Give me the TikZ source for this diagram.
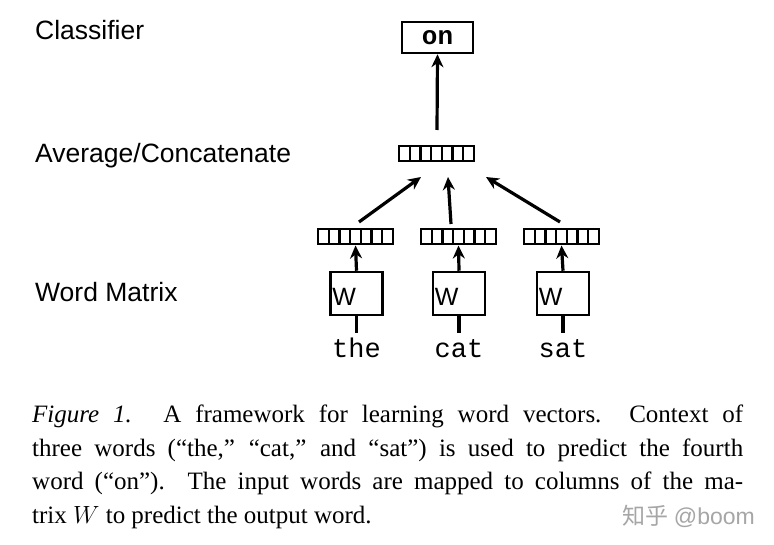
\documentclass[tikz,border=0pt]{standalone}
\usepackage{fontspec}
\setmainfont{Liberation Serif}
\setsansfont{Liberation Sans}
\setmonofont{Liberation Mono}
\newfontfamily\cjk{Noto Sans CJK SC}
\usetikzlibrary{arrows.meta}
\tikzset{
 lab/.style={anchor=west,font=\sffamily\fontsize{26.5}{28}\selectfont,inner sep=0},
 vec/.style={draw,line width=2.5pt,minimum width=75pt,minimum height=15pt,inner sep=0,outer sep=0},
 wbox/.style={draw,line width=2.5pt,minimum width=52pt,minimum height=43pt,inner sep=0},
 word/.style={font=\ttfamily\fontsize{27}{27}\selectfont,inner sep=0,anchor=base},
 arr/.style={line width=3.2pt,-{Stealth[length=13pt,width=12pt]}},
}
\newcommand{\cells}[1]{\foreach \i in {1,...,6}{\draw[line width=2.2pt] ([xshift=\i*75pt/7]#1.north west) -- ([xshift=\i*75pt/7]#1.south west);}}
\begin{document}
\begin{tikzpicture}[x=1pt,y=-1pt]
\useasboundingbox (0,0) rectangle (774,545);
\fill[white] (0,0) rectangle (774,545);
\node[lab] (l1) at (35,30) {Classifier};
\node[lab] (l2) at (35,156) {Average/Concatenate};
\node[lab] (l3) at (35,292) {Word Matrix};
\node[draw,line width=2.5pt,minimum width=71pt,minimum height=31pt,inner sep=0,font=\ttfamily\bfseries\fontsize{26}{26}\selectfont] (on) at (437.5,37.5) {on};
\node[vec] (avg) at (436.5,153.5) {}; \cells{avg}
\foreach \n/\x/\wx/\t in {a/355.5/356.5/the,b/458.5/459/cat,c/561.5/563/sat}{
  \node[vec] (v\n) at (\x,236.5) {}; \cells{v\n}
  \node[wbox] (w\n) at (\wx,293.5) {};
  \node[font=\sffamily\fontsize{25}{25}\selectfont,anchor=west,inner sep=0] (wl\n) at ([xshift=3pt,yshift=-3pt]w\n.west) {W};
  \node[word] (t\n) at (\wx,358) {\t};
  \draw[line width=3.2pt] (\wx,333) -- (w\n.south);
  \draw[arr] (w\n.north) -- ([yshift=-1.5pt]v\n.south);
}
\coordinate (s1) at (359,222); \coordinate (e1) at (421,177);
\coordinate (s2) at (451,224); \coordinate (e2) at (448,177);
\coordinate (s3) at (560,222); \coordinate (e3) at (486,177);
\draw[arr] (s1) -- (e1);
\draw[arr] (s2) -- (e2);
\draw[arr] (s3) -- (e3);
\draw[arr] (437,130) -- (on.south);
\node[anchor=north west,inner sep=0,text width=711pt,align=justify,font=\fontsize{25}{33.5}\selectfont] (cap) at (32,405) {\textit{Figure 1.} A framework for learning word vectors.\ \ Context of\linebreak three words (``the,'' ``cat,'' and ``sat'') is used to predict the fourth\linebreak word (``on''). The input words are mapped to columns of the ma-\linebreak trix $W$ to predict the output word.};
\node[anchor=east,inner sep=0,text=gray!70,font=\fontsize{23}{23}\selectfont] (wm) at (755,516) {{\cjk 知乎} \sffamily @boom};
\end{tikzpicture}
\end{document}
